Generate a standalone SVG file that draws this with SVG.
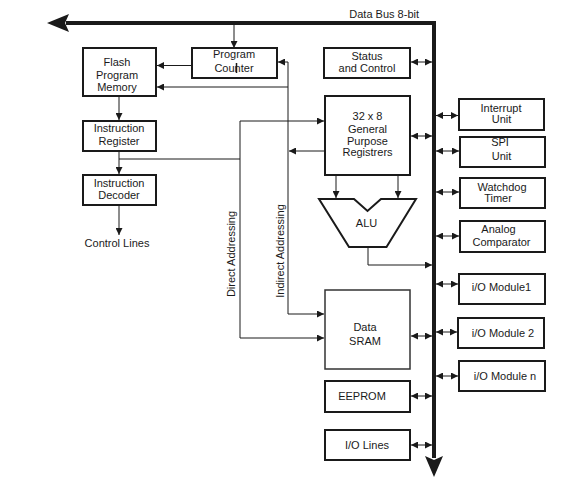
<svg xmlns="http://www.w3.org/2000/svg" width="575" height="485" viewBox="0 0 575 485">
<defs>
<style>
.box{fill:#fff;stroke:#1a1a1a;stroke-width:2}
.thin{fill:#fff;stroke:#333;stroke-width:1.5}
.c{fill:none;stroke:#1a1a1a;stroke-width:1}
.t{font-family:"Liberation Sans",Arial,sans-serif;font-size:11px;fill:#1a1a1a;text-anchor:middle}
.bus{fill:none;stroke:#1a1a1a;stroke-width:4}
</style>
<marker id="ah" viewBox="0 0 7 7" refX="7" refY="3.5" markerWidth="7" markerHeight="7" markerUnits="userSpaceOnUse" orient="auto-start-reverse">
<path d="M0,0 L7,3.5 L0,7 z" fill="#1a1a1a"/>
</marker>
</defs>
<rect width="575" height="485" fill="#fff"/>

<g id="connectors">
<path class="bus" d="M66,23 H434 V458"/>
<polygon points="47,23 69,14 65,23 69,32" fill="#1a1a1a"/>
<polygon points="425,456 434,460 443,456 434,477" fill="#1a1a1a"/>
<path class="c" d="M234,25 V48" marker-end="url(#ah)"/>
<path class="c" d="M192,65.5 H157" marker-end="url(#ah)"/>
<path class="c" d="M288,62 V314 H324" marker-end="url(#ah)"/>
<path class="c" d="M288,62 H278" marker-end="url(#ah)"/>
<path class="c" d="M288,87 H157" marker-end="url(#ah)"/>
<path class="c" d="M325,151 H289" marker-end="url(#ah)"/>
<path class="c" d="M119,159 H240"/>
<path class="c" d="M240,121 V338 H324" marker-end="url(#ah)"/>
<path class="c" d="M240,121 H324" marker-end="url(#ah)"/>
<path class="c" d="M119,96 V120" marker-end="url(#ah)"/>
<path class="c" d="M119,151 V174" marker-end="url(#ah)"/>
<path class="c" d="M119,205 V235" marker-end="url(#ah)"/>
<path class="c" d="M336,175 V198" marker-end="url(#ah)"/>
<path class="c" d="M398,175 V198" marker-end="url(#ah)"/>
<path class="c" d="M368,247 V265 H432" marker-end="url(#ah)"/>
<path class="c" d="M411,62 H432" marker-start="url(#ah)" marker-end="url(#ah)"/>
<path class="c" d="M411,136 H432" marker-start="url(#ah)" marker-end="url(#ah)"/>
<path class="c" d="M411,336 H432" marker-start="url(#ah)" marker-end="url(#ah)"/>
<path class="c" d="M411,396 H432" marker-start="url(#ah)" marker-end="url(#ah)"/>
<path class="c" d="M411,445 H432" marker-start="url(#ah)" marker-end="url(#ah)"/>
<path class="c" d="M436,115.5 H458" marker-start="url(#ah)" marker-end="url(#ah)"/>
<path class="c" d="M436,151 H459" marker-start="url(#ah)" marker-end="url(#ah)"/>
<path class="c" d="M436,192 H459" marker-start="url(#ah)" marker-end="url(#ah)"/>
<path class="c" d="M436,236 H459" marker-start="url(#ah)" marker-end="url(#ah)"/>
<path class="c" d="M436,284 H458" marker-start="url(#ah)" marker-end="url(#ah)"/>
<path class="c" d="M436,332 H457" marker-start="url(#ah)" marker-end="url(#ah)"/>
<path class="c" d="M436,376 H458" marker-start="url(#ah)" marker-end="url(#ah)"/>
<text class="t" x="419" y="18" style="text-anchor:end">Data Bus 8-bit</text>
<text class="t" transform="translate(235,254) rotate(-90)">Direct Addressing</text>
<text class="t" transform="translate(283.5,251) rotate(-90)">Indirect Addressing</text>
<text class="t" x="117" y="247">Control Lines</text>
</g>

<g id="flash">
<rect class="box" x="83" y="48" width="73" height="48"/>
<text class="t" x="117" y="66">Flash</text>
<text class="t" x="117" y="78.5">Program</text>
<text class="t" x="117" y="91">Memory</text>
</g>
<g id="pc">
<rect class="box" x="192" y="48" width="85" height="30"/>
<text class="t" x="234" y="58">Program</text>
<text class="t" x="234" y="72">Counter</text>
<line x1="236.5" y1="63" x2="236.5" y2="73" stroke="#1a1a1a" stroke-width="1.5"/>
</g>
<g id="status">
<rect class="box" x="324" y="48" width="86" height="30"/>
<text class="t" x="367" y="60">Status</text>
<text class="t" x="367" y="72">and Control</text>
</g>
<g id="ir">
<rect class="box" x="83" y="121" width="73" height="30"/>
<text class="t" x="119" y="132">Instruction</text>
<text class="t" x="119" y="145">Register</text>
</g>
<g id="decoder">
<rect class="box" x="83" y="175" width="73" height="30"/>
<text class="t" x="119" y="187">Instruction</text>
<text class="t" x="119" y="199">Decoder</text>
</g>
<g id="registers">
<rect class="box" x="325" y="96" width="85" height="79"/>
<text class="t" x="367.5" y="119.5">32 x 8</text>
<text class="t" x="367.5" y="133">General</text>
<text class="t" x="367.5" y="145">Purpose</text>
<text class="t" x="367.5" y="156">Registrers</text>
</g>
<g id="alu">
<polygon class="box" stroke-width="1.5" points="319,199 354,199 367.5,211 381,199 416,199 386.5,247 349,247"/>
<text class="t" x="366.5" y="226.5">ALU</text>
</g>
<g id="sram">
<rect class="thin" x="325" y="290" width="85" height="79"/>
<text class="t" x="365" y="331">Data</text>
<text class="t" x="365" y="345">SRAM</text>
</g>
<g id="eeprom">
<rect class="box" x="325" y="381" width="85" height="31"/>
<text class="t" x="362" y="400">EEPROM</text>
</g>
<g id="iolines">
<rect class="box" x="325" y="430" width="85" height="30"/>
<text class="t" x="367" y="449">I/O Lines</text>
</g>
<g id="interrupt">
<rect class="box" x="459" y="99" width="85" height="31"/>
<text class="t" x="501" y="112">Interrupt</text>
<text class="t" x="501.5" y="123">Unit</text>
</g>
<g id="spi">
<rect class="box" x="460" y="137" width="85" height="30"/>
<text class="t" x="500" y="145.5">SPI</text>
<text class="t" x="501.5" y="159.5">Unit</text>
</g>
<g id="watchdog">
<rect class="box" x="460" y="178" width="85" height="30"/>
<text class="t" x="502" y="190.5">Watchdog</text>
<text class="t" x="498" y="202">Timer</text>
</g>
<g id="analog">
<rect class="box" x="460" y="221" width="85" height="31"/>
<text class="t" x="498.5" y="233">Analog</text>
<text class="t" x="501.5" y="246">Comparator</text>
</g>
<g id="mod1">
<rect class="box" x="459" y="274" width="86" height="30"/>
<text class="t" x="501.5" y="290.5">i/O Module1</text>
</g>
<g id="mod2">
<rect class="box" x="458" y="318" width="86" height="30"/>
<text class="t" x="503" y="336.5">i/O Module 2</text>
</g>
<g id="modn">
<rect class="box" x="459" y="361" width="86" height="30"/>
<text class="t" x="505" y="380">i/O Module n</text>
</g>
</svg>
